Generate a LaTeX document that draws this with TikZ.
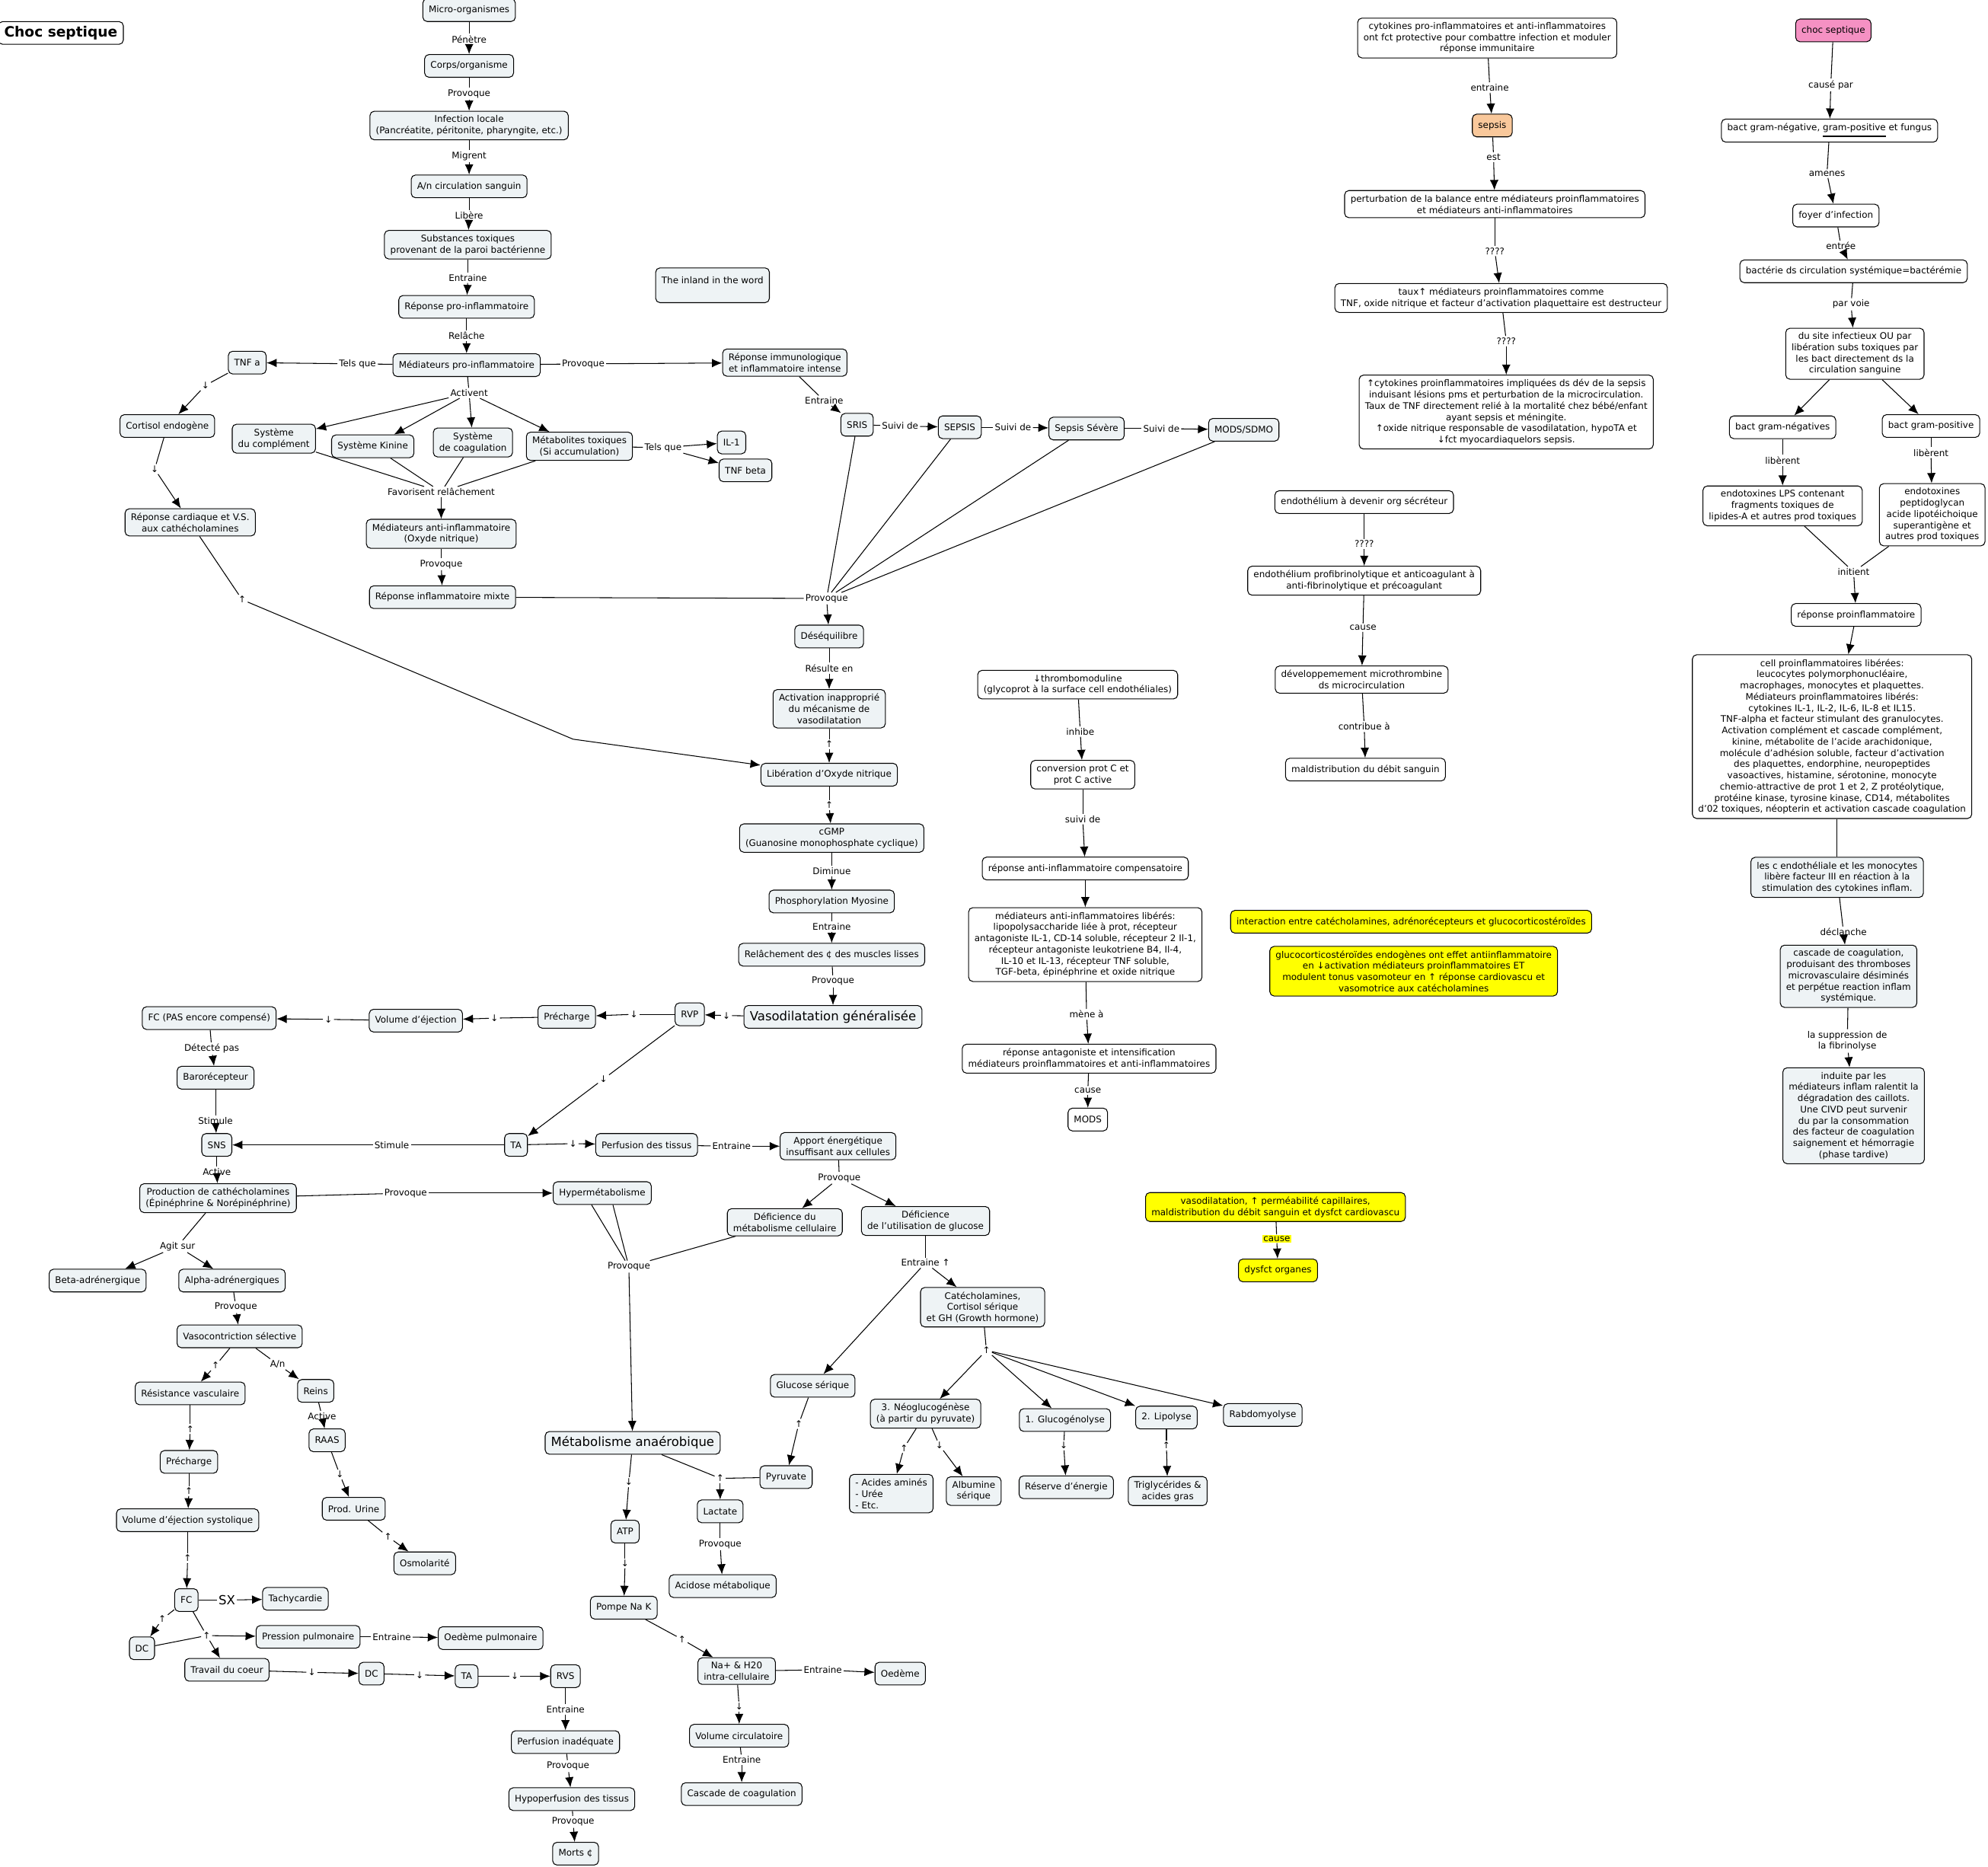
\documentclass[tikz,border=0pt]{standalone}
\usepackage{fontspec}
\setmainfont{DejaVu Sans}
\usetikzlibrary{arrows.meta}
\definecolor{bg}{HTML}{EEF3F5}
\definecolor{yel}{HTML}{FFFF00}
\newcommand{\cnx}[3]{\draw (#1)--(#2); \draw[ar] (#2)--(#3);}
\begin{document}
\begin{tikzpicture}[x=0.0166667cm,y=-0.0166667cm,line width=0.3pt,
 every node/.style={font=\fontsize{3.4}{4.2}\selectfont,align=center},
 b/.style={draw,rounded corners=1.6pt,fill=bg,inner xsep=2.2pt,inner ysep=1.6pt,minimum height=8.5pt},
 w/.style={b,fill=white},
 l/.style={fill=white,inner sep=0.5pt},
 big/.style={font=\fontsize{4.7}{5.4}\selectfont},
 ar/.style={-{Latex[length=3.8pt,width=3.2pt]}}]
\useasboundingbox (0,0) rectangle (1568,1472);
\node[w,font=\fontsize{5.3}{6.3}\bfseries] (title) at (48,26) {Choc septique};
% ---------- left main chain
\node[b] (m1) at (370,8) {Micro-organismes};
\node[l] (l1) at (370,31) {Pénètre};
\node[b] (m2) at (370,52) {Corps/organisme};
\node[l] (l2) at (370,74) {Provoque};
\node[b] (m3) at (370,99) {Infection locale\\(Pancréatite, péritonite, pharyngite, etc.)};
\node[l] (l3) at (370,123) {Migrent};
\node[b] (m4) at (370,147) {A/n circulation sanguin};
\node[l] (l4) at (370,170) {Libère};
\node[b] (m5) at (369,193) {Substances toxiques\\provenant de la paroi bactérienne};
\node[l] (l5) at (369,219) {Entraine};
\node[b] (m6) at (368,242) {Réponse pro-inflammatoire};
\node[l] (l6) at (368,265) {Relâche};
\node[b] (m7) at (368,288) {Médiateurs pro-inflammatoire};
\cnx{m1}{l1}{m2}\cnx{m2}{l2}{m3}\cnx{m3}{l3}{m4}\cnx{m4}{l4}{m5}\cnx{m5}{l5}{m6}\cnx{m6}{l6}{m7}
\node[b,minimum height=13pt,text depth=4pt] (inland) at (562,225) {The inland in the word};
\node[l] (l7) at (282,287) {Tels que};
\node[b] (tnfa) at (195,286) {TNF a};
\node[l] (l8) at (460,287) {Provoque};
\node[b] (rim) at (619,286) {Réponse immunologique\\et inflammatoire intense};
\cnx{m7}{l7}{tnfa}\cnx{m7}{l8}{rim}
\node[l] (u1) at (162,304) {↓};
\node[b] (cort) at (132,336) {Cortisol endogène};
\node[l] (u2) at (122,370) {↓};
\node[b] (rcv) at (150,412) {Réponse cardiaque et V.S.\\aux cathécholamines};
\cnx{tnfa}{u1}{cort}\cnx{cort}{u2}{rcv}
\node[l] (u3) at (191,473) {↑};
\node[l] (l9) at (370,310) {Activent};
\node[b] (sc) at (216,346) {Système\\du complément};
\node[b] (ki) at (294,352) {Système Kinine};
\node[b] (coag) at (373,349) {Système\\de coagulation};
\node[b] (meta) at (457,352) {Métabolites toxiques\\(Si accumulation)};
\draw (m7)--(l9);
\foreach \n in {sc,ki,coag,meta} \draw[ar] (l9)--(\n);
\node[l] (l10) at (523,353) {Tels que};
\node[b] (il1) at (577,349) {IL-1};
\node[b] (tnfb) at (588,371) {TNF beta};
\draw (meta)--(l10); \draw[ar] (l10)--(il1); \draw[ar] (l10)--(tnfb);
\node[l] (l11) at (348,388) {Favorisent relâchement};
\node[b] (anti) at (348,421) {Médiateurs anti-inflammatoire\\(Oxyde nitrique)};
\foreach \n in {sc,ki,coag,meta} \draw (\n)--(l11);
\draw[ar] (l11)--(anti);
\node[l] (l12) at (348,445) {Provoque};
\node[b] (mixte) at (349,471) {Réponse inflammatoire mixte};
\cnx{anti}{l12}{mixte}
\node[l] (l13) at (650,316) {Entraine};
\node[b] (sris) at (676,335) {SRIS};
\cnx{rim}{l13}{sris}
\node[l] (l14) at (710,336) {Suivi de};
\node[b] (sep2) at (757,337) {SEPSIS};
\node[l] (l15) at (799,337) {Suivi de};
\node[b] (sev) at (857,338) {Sepsis Sévère};
\node[l] (l16) at (916,338) {Suivi de};
\node[b] (mods) at (981,339) {MODS/SDMO};
\cnx{sris}{l14}{sep2}\cnx{sep2}{l15}{sev}\cnx{sev}{l16}{mods}
\node[l] (l17) at (652,472) {Provoque};
\foreach \n in {sris,sep2,sev,mods,mixte} \draw (\n)--(l17);
\node[b] (des) at (654,502) {Déséquilibre};
\draw[ar] (l17)--(des);
\node[l] (l18) at (654,527) {Résulte en};
\node[b] (act) at (654,559) {Activation inapproprié\\du mécanisme de\\vasodilatation};
\cnx{des}{l18}{act}
\node[l] (u4) at (654,587) {↑};
\node[b] (libno) at (654,611) {Libération d'Oxyde nitrique};
\cnx{act}{u4}{libno}
\draw (rcv)--(u3); \draw[ar] (u3)--(452,583)--(libno);
\node[l] (u5) at (654,635) {↑};
\node[b] (cgmp) at (656,661) {cGMP\\(Guanosine monophosphate cyclique)};
\cnx{libno}{u5}{cgmp}
\node[l] (l19) at (656,687) {Diminue};
\node[b] (phos) at (656,711) {Phosphorylation Myosine};
\cnx{cgmp}{l19}{phos}
\node[l] (l20) at (656,731) {Entraine};
\node[b] (rel) at (656,753) {Relâchement des ¢ des muscles lisses};
\cnx{phos}{l20}{rel}
\node[l] (l21) at (657,774) {Provoque};
\node[b,big] (vaso) at (657,802) {Vasodilatation généralisée};
\cnx{rel}{l21}{vaso}
\node[l] (u6) at (573,801) {↓};
\node[b] (rvp) at (544,800) {RVP};
\node[l] (u7) at (500,800) {↓};
\node[b] (prech) at (447,802) {Précharge};
\node[l] (u8) at (390,803) {↓};
\node[b] (vej) at (328,805) {Volume d'éjection};
\node[l] (u9) at (259,804) {↓};
\node[b] (fc1) at (165,803) {FC (PAS encore compensé)};
\cnx{vaso}{u6}{rvp}\cnx{rvp}{u7}{prech}\cnx{prech}{u8}{vej}\cnx{vej}{u9}{fc1}
\node[l] (l22) at (167,827) {Détecté pas};
\node[b] (baro) at (170,850) {Barorécepteur};
\node[l] (l23) at (170,884) {Stimule};
\node[b] (sns) at (171,903) {SNS};
\cnx{fc1}{l22}{baro}\cnx{baro}{l23}{sns}
\node[l] (u10) at (476,851) {↓};
\node[b] (ta) at (407,903) {TA};
\cnx{rvp}{u10}{ta}
\node[l] (l24) at (309,903) {Stimule};
\cnx{ta}{l24}{sns}
\node[l] (u11) at (452,902) {↓};
\node[b] (perf) at (510,903) {Perfusion des tissus};
\cnx{ta}{u11}{perf}
\node[l] (l25) at (577,904) {Entraine};
\node[b] (apport) at (661,904) {Apport énergétique\\insuffisant aux cellules};
\cnx{perf}{l25}{apport}
\node[l] (l26) at (171,924) {Active};
\node[b] (prod) at (172,945) {Production de cathécholamines\\(Épinéphrine \& Norépinéphrine)};
\cnx{sns}{l26}{prod}
\node[l] (l27) at (320,941) {Provoque};
\node[b] (hyper) at (475,941) {Hypermétabolisme};
\cnx{prod}{l27}{hyper}
\node[l] (l28) at (140,983) {Agit sur};
\node[b] (beta) at (77,1010) {Beta-adrénergique};
\node[b] (alpha) at (183,1010) {Alpha-adrénergiques};
\draw (prod)--(l28); \draw[ar] (l28)--(beta); \draw[ar] (l28)--(alpha);
\node[l] (l29) at (186,1031) {Provoque};
\node[b] (vc) at (189,1054) {Vasocontriction sélective};
\cnx{alpha}{l29}{vc}
\node[l] (u12) at (170,1077) {↑};
\node[b] (rvasc) at (150,1099) {Résistance vasculaire};
\cnx{vc}{u12}{rvasc}
\node[l] (l30) at (219,1076) {A/n};
\node[b] (reins) at (249,1097) {Reins};
\cnx{vc}{l30}{reins}
\node[l] (l31) at (254,1117) {Active};
\node[b] (raas) at (258,1136) {RAAS};
\cnx{reins}{l31}{raas}
\node[l] (u13) at (268,1163) {↓};
\node[b] (purine) at (279,1190) {Prod. Urine};
\cnx{raas}{u13}{purine}
\node[l] (u14) at (306,1212) {↑};
\node[b] (osm) at (335,1233) {Osmolarité};
\cnx{purine}{u14}{osm}
\node[l] (u15) at (150,1127) {↑};
\node[b] (prech2) at (149,1153) {Précharge};
\cnx{rvasc}{u15}{prech2}
\node[l] (u16) at (149,1176) {↑};
\node[b] (vejs) at (148,1199) {Volume d'éjection systolique};
\cnx{prech2}{u16}{vejs}
\node[l] (u17) at (148,1229) {↑};
\node[b] (fc) at (147,1262) {FC};
\cnx{vejs}{u17}{fc}
\node[l,big] (sx) at (179,1262) {SX};
\node[b] (tachy) at (233,1261) {Tachycardie};
\cnx{fc}{sx}{tachy}
\node[l] (u18) at (128,1277) {↑};
\node[b] (dc) at (112,1300) {DC};
\cnx{fc}{u18}{dc}
\node[l] (u19) at (163,1290) {↑};
\draw (fc)--(u19); \draw (dc)--(u19);
\node[b] (pp) at (243,1291) {Pression pulmonaire};
\node[b] (trav) at (179,1317) {Travail du coeur};
\draw[ar] (u19)--(pp); \draw[ar] (u19)--(trav);
\node[l] (l32) at (309,1291) {Entraine};
\node[b] (oed) at (387,1292) {Oedème pulmonaire};
\cnx{pp}{l32}{oed}
\node[l] (u20) at (246,1319) {↓};
\node[b] (dc2) at (293,1320) {DC};
\node[l] (u21) at (331,1321) {↓};
\node[b] (ta2) at (368,1322) {TA};
\node[l] (u22) at (406,1322) {↓};
\node[b] (rvs) at (446,1322) {RVS};
\cnx{trav}{u20}{dc2}\cnx{dc2}{u21}{ta2}\cnx{ta2}{u22}{rvs}
\node[l] (l33) at (446,1348) {Entraine};
\node[b] (pinad) at (446,1374) {Perfusion inadéquate};
\node[l] (l34) at (448,1393) {Provoque};
\node[b] (hypo) at (451,1419) {Hypoperfusion des tissus};
\node[l] (l35) at (452,1437) {Provoque};
\node[b] (morts) at (454,1462) {Morts ¢};
\cnx{rvs}{l33}{pinad}\cnx{pinad}{l34}{hypo}\cnx{hypo}{l35}{morts}
% metabolism
\node[l] (l36) at (662,929) {Provoque};
\node[b] (defm) at (619,964) {Déficience du\\métabolisme cellulaire};
\node[b] (defu) at (730,963) {Déficience\\de l'utilisation de glucose};
\draw (apport)--(l36); \draw[ar] (l36)--(defm); \draw[ar] (l36)--(defu);
\node[l] (l37) at (496,999) {Provoque};
\node[b,big] (anae) at (499,1138) {Métabolisme anaérobique};
\draw ([xshift=-4pt]hyper.south)--(l37); \draw ([xshift=4pt]hyper.south)--(l37); \draw (defm)--(l37);
\draw[ar] (l37)--(anae);
\node[l] (l38) at (730,996) {Entraine ↑};
\node[b] (cat) at (775,1031) {Catécholamines,\\Cortisol sérique\\et GH (Growth hormone)};
\node[b] (glu) at (641,1093) {Glucose sérique};
\draw (defu)--(l38); \draw[ar] (l38)--(cat); \draw[ar] (l38)--(glu);
\node[l] (u23) at (630,1123) {↑};
\node[b] (pyr) at (620,1165) {Pyruvate};
\cnx{glu}{u23}{pyr}
\node[l] (u24) at (778,1065) {↑};
\node[b] (neo) at (730,1115) {3. Néoglucogénèse\\(à partir du pyruvate)};
\node[b] (glyco) at (840,1120) {1. Glucogénolyse};
\node[b] (lipo) at (920,1118) {2. Lipolyse};
\node[b] (rabdo) at (996,1116) {Rabdomyolyse};
\draw (cat)--(u24);
\foreach \n in {neo,glyco,lipo,rabdo} \draw[ar] (u24)--(\n);
\node[l] (u25) at (713,1142) {↑};
\node[b,align=left] (aa) at (703,1178) {- Acides aminés\\- Urée\\- Etc.};
\cnx{neo}{u25}{aa}
\node[l] (u26) at (741,1140) {↓};
\node[b] (alb) at (768,1176) {Albumine\\sérique};
\cnx{neo}{u26}{alb}
\node[l] (u27) at (839,1140) {↓};
\node[b] (res) at (841,1173) {Réserve d'énergie};
\cnx{glyco}{u27}{res}
\node[l] (u28) at (920,1140) {↑};
\node[b] (trig) at (921,1176) {Triglycérides \&\\acides gras};
\cnx{lipo}{u28}{trig}
\node[l] (u29) at (496,1169) {↓};
\node[b] (atp) at (493,1208) {ATP};
\cnx{anae}{u29}{atp}
\node[l] (u30) at (568,1166) {↑};
\node[b] (lact) at (568,1192) {Lactate};
\draw (anae)--(u30); \draw (pyr)--(u30); \draw[ar] (u30)--(lact);
\node[l] (l39) at (568,1218) {Provoque};
\node[b] (acid) at (570,1251) {Acidose métabolique};
\cnx{lact}{l39}{acid}
\node[l] (u31) at (493,1233) {↓};
\node[b] (pompe) at (492,1268) {Pompe Na K};
\cnx{atp}{u31}{pompe}
\node[l] (u32) at (538,1293) {↑};
\node[b] (na) at (581,1318) {Na+ \& H20\\intra-cellulaire};
\cnx{pompe}{u32}{na}
\node[l] (l40) at (649,1317) {Entraine};
\node[b] (oedeme) at (710,1320) {Oedème};
\cnx{na}{l40}{oedeme}
\node[l] (u33) at (583,1346) {↓};
\node[b] (volc) at (583,1369) {Volume circulatoire};
\cnx{na}{u33}{volc}
\node[l] (l41) at (585,1388) {Entraine};
\node[b] (casc) at (585,1415) {Cascade de coagulation};
\cnx{volc}{l41}{casc}
% ---------- middle column
\node[w] (thr) at (850,540) {↓thrombomoduline\\(glycoprot à la surface cell endothéliales)};
\node[l] (l42) at (852,577) {inhibe};
\node[w] (conv) at (854,611) {conversion prot C et\\prot C active};
\node[l] (l43) at (854,646) {suivi de};
\node[w] (rac) at (856,685) {réponse anti-inflammatoire compensatoire};
\node[w] (mal) at (856,745) {médiateurs anti-inflammatoires libérés:\\lipopolysaccharide liée à prot, récepteur\\antagoniste IL-1, CD-14 soluble, récepteur 2 Il-1,\\récepteur antagoniste leukotriene B4, Il-4,\\IL-10 et IL-13, récepteur TNF soluble,\\TGF-beta, épinéphrine et oxide nitrique};
\node[l] (l44) at (857,800) {mène à};
\node[w] (rant) at (859,835) {réponse antagoniste et intensification\\médiateurs proinflammatoires et anti-inflammatoires};
\node[l] (l45) at (858,860) {cause};
\node[w] (mods2) at (858,883) {MODS};
\cnx{thr}{l42}{conv}\cnx{conv}{l43}{rac}\draw[ar] (rac)--(mal);\cnx{mal}{l44}{rant}\cnx{rant}{l45}{mods2}
\node[w] (endo) at (1076,396) {endothélium à devenir org sécréteur};
\node[l] (l46) at (1076,429) {????};
\node[w] (endo2) at (1076,458) {endothélium profibrinolytique et anticoagulant à\\anti-fibrinolytique et précoagulant};
\node[l] (l47) at (1075,495) {cause};
\node[w] (dev) at (1074,536) {développemement microthrombine\\ds microcirculation};
\node[l] (l48) at (1076,573) {contribue à};
\node[w] (maldeb) at (1077,607) {maldistribution du débit sanguin};
\cnx{endo}{l46}{endo2}\cnx{endo2}{l47}{dev}\cnx{dev}{l48}{maldeb}
\node[b,fill=yel] (y1) at (1113,727) {interaction entre catécholamines, adrénorécepteurs et glucocorticostéroïdes};
\node[b,fill=yel] (y2) at (1115,766) {glucocorticostéroïdes endogènes ont effet antiinflammatoire\\en ↓activation médiateurs proinflammatoires ET\\modulent tonus vasomoteur en ↑ réponse cardiovascu et\\vasomotrice aux catécholamines};
\node[b,fill=yel] (y3) at (1006,952) {vasodilatation, ↑ perméabilité capillaires,\\maldistribution du débit sanguin et dysfct cardiovascu};
\node[l,fill=yel] (l49) at (1007,977) {cause};
\node[b,fill=yel] (y4) at (1008,1002) {dysfct organes};
\cnx{y3}{l49}{y4}
% ---------- right-middle column
\node[w] (cyt) at (1173,30) {cytokines pro-inflammatoires et anti-inflammatoires\\ont fct protective pour combattre infection et moduler\\réponse immunitaire};
\node[l] (l50) at (1175,69) {entraine};
\node[b,fill={rgb,255:red,249;green,200;blue,155}] (sepsis) at (1177,99) {sepsis};
\node[l] (l51) at (1178,124) {est};
\node[w] (pert) at (1179,161) {perturbation de la balance entre médiateurs proinflammatoires\\et médiateurs anti-inflammatoires};
\node[l] (l52) at (1179,198) {????};
\node[w] (taux) at (1184,235) {taux↑ médiateurs proinflammatoires comme\\TNF, oxide nitrique et facteur d'activation plaquettaire est destructeur};
\node[l] (l53) at (1188,269) {????};
\node[w] (cytp) at (1188,325) {↑cytokines proinflammatoires impliquées ds dév de la sepsis\\induisant lésions pms et perturbation de la microcirculation.\\Taux de TNF directement relié à la mortalité chez bébé/enfant\\ayant sepsis et méningite.\\↑oxide nitrique responsable de vasodilatation, hypoTA et\\↓fct myocardiaquelors sepsis.};
\cnx{cyt}{l50}{sepsis}\cnx{sepsis}{l51}{pert}\cnx{pert}{l52}{taux}\cnx{taux}{l53}{cytp}
% ---------- far right
\node[b,fill={rgb,255:red,245;green,145;blue,195}] (choc) at (1446,24) {choc septique};
\node[l] (l54) at (1444,67) {causé par};
\node[w] (bact) at (1443,103) {bact gram-négative, \underline{gram-positive} et fungus};
\node[l] (l55) at (1441,137) {amenes};
\node[w] (foyer) at (1448,170) {foyer d'infection};
\node[l] (l56) at (1452,194) {entrée};
\node[w] (bactsys) at (1462,214) {bactérie ds circulation systémique=bactérémie};
\node[l] (l57) at (1460,240) {par voie};
\node[w] (site) at (1463,279) {du site infectieux OU par\\libération subs toxiques par\\les bact directement ds la\\circulation sanguine};
\cnx{choc}{l54}{bact}\cnx{bact}{l55}{foyer}\cnx{foyer}{l56}{bactsys}\cnx{bactsys}{l57}{site}
\node[w] (gneg) at (1406,337) {bact gram-négatives};
\node[w] (gpos) at (1523,336) {bact gram-positive};
\draw[ar] (site)--(gneg); \draw[ar] (site)--(gpos);
\node[l] (l58) at (1406,363) {libèrent};
\node[w] (endol) at (1406,399) {endotoxines LPS contenant\\fragments toxiques de\\lipides-A et autres prod toxiques};
\node[l] (l59) at (1523,357) {libèrent};
\node[w] (endop) at (1524,406) {endotoxines\\peptidoglycan\\acide lipotéichoique\\superantigène et\\autres prod toxiques};
\cnx{gneg}{l58}{endol}\cnx{gpos}{l59}{endop}
\node[l] (l60) at (1462,451) {initient};
\node[w] (rpro) at (1464,485) {réponse proinflammatoire};
\draw (endol)--(l60); \draw (endop)--(l60); \draw[ar] (l60)--(rpro);
\node[w] (cell) at (1445,581) {cell proinflammatoires libérées:\\leucocytes polymorphonucléaire,\\macrophages, monocytes et plaquettes.\\Médiateurs proinflammatoires libérés:\\cytokines IL-1, IL-2, IL-6, IL-8 et IL15.\\TNF-alpha et facteur stimulant des granulocytes.\\Activation complément et cascade complément,\\kinine, métabolite de l'acide arachidonique,\\molécule d'adhésion soluble, facteur d'activation\\des plaquettes, endorphine, neuropeptides\\vasoactives, histamine, sérotonine, monocyte\\chemio-attractive de prot 1 et 2, Z protéolytique,\\protéine kinase, tyrosine kinase, CD14, métabolites\\d'02 toxiques, néopterin et activation cascade coagulation};
\draw[ar] (rpro)--(cell);
\node[b] (lesc) at (1449,692) {les c endothéliale et les monocytes\\libère facteur III en réaction à la\\stimulation des cytokines inflam.};
\draw (cell.south -| 1449,0)--(lesc);
\node[l] (l61) at (1454,735) {déclanche};
\node[b] (cascc) at (1458,770) {cascade de coagulation,\\produisant des thromboses\\microvasculaire désiminés\\et perpétue reaction inflam\\systémique.};
\node[l] (l62) at (1457,821) {la suppression de\\la fibrinolyse};
\node[b] (ind) at (1462,880) {induite par les\\médiateurs inflam ralentit la\\dégradation des caillots.\\Une CIVD peut survenir\\du par la consommation\\des facteur de coagulation\\saignement et hémorragie\\(phase tardive)};
\cnx{lesc}{l61}{cascc}\cnx{cascc}{l62}{ind}
\end{tikzpicture}
\end{document}
